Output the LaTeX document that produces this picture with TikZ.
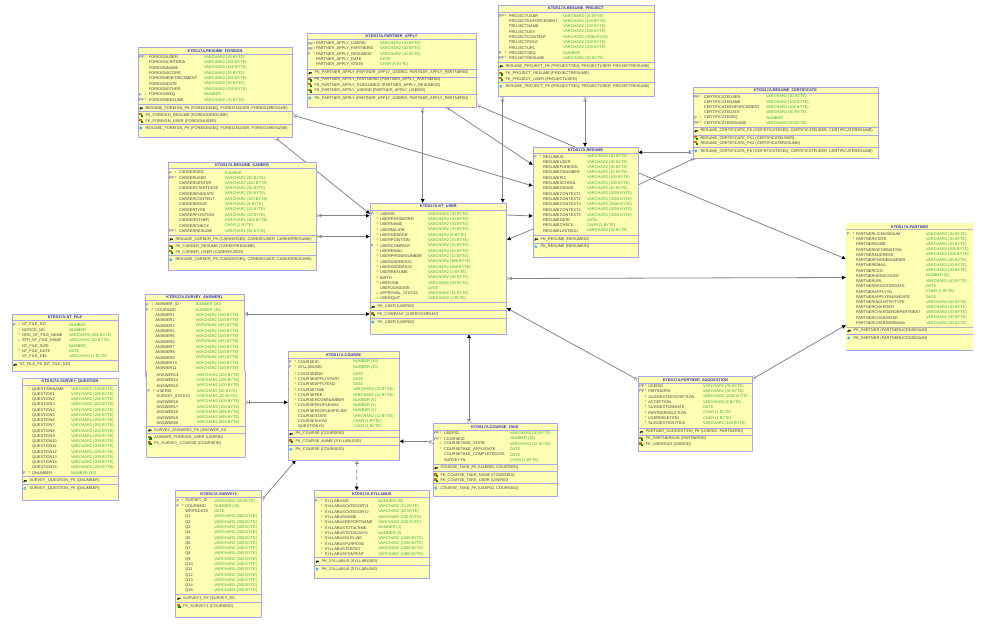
\documentclass[tikz,border=0pt]{standalone}
\usepackage{fontspec}
\setmainfont{Liberation Sans}
\usetikzlibrary{arrows.meta}
\pgfdeclarelayer{conn}
\pgfsetlayers{conn,main}
\definecolor{tfill}{HTML}{FFFFB4}
\definecolor{tline}{HTML}{A8A8E8}
\definecolor{ttitle}{HTML}{2A2AC8}
\definecolor{ttype}{HTML}{3CA83C}
\definecolor{tname}{HTML}{404040}
\definecolor{tlink}{HTML}{858585}
\tikzset{
  ahead/.tip={Latex[black,length=3pt,width=3.2pt]},
  crowo/.tip={Circle[open,length=2.4pt,width=2.6pt,line width=.3pt] Straight Barb[reversed,length=1.8pt,width=2.6pt,line width=.3pt]},
  crowb/.tip={Bar[width=3pt,line width=.35pt] Straight Barb[reversed,length=2pt,width=3pt,line width=.35pt]},
  tblbox/.style={draw=tline,fill=tfill,line width=.7pt,inner sep=0pt,outer sep=0pt,anchor=north west},
  txt/.style={inner sep=0pt,outer sep=0pt,anchor=west,font=\fontsize{2.95}{3.2}\selectfont},
  ttl/.style={txt,anchor=center,text=ttitle,font=\fontsize{2.9}{3.2}\selectfont\bfseries},
  nametxt/.style={txt,text=tname},
  typetxt/.style={txt,text=ttype},
  keytxt/.style={txt,text=ttitle},
  startxt/.style={txt,text=red!85!black},
  sepbar/.style={fill=tline},
  graybar/.style={fill=black!28},
  link/.style={draw=tlink,line width=.6pt},
}
% table frame: id, x0, y0, x1, y1, title, title y
\newcommand\ertbl[8][]{%
  \expandafter\gdef\csname ox#2\endcsname{#3}%
  \expandafter\gdef\csname oy#2\endcsname{#4}%
  \pgfmathsetmacro\tw{(#5-#3)*0.75}\pgfmathsetmacro\th{(#6-#4)*0.75}%
  \node[tblbox,minimum width=\tw pt,minimum height=\th pt,#1] (#2) at (#3,#4) {};%
  \node[ttl] (#2title) at ({(#3+#5)/2},#8) {#7};}
\newcommand\ersep[4][sepbar]{\path[#1] (#2,#4-.4) rectangle (#3,#4+.4);}
\newcommand\errows[7]{%
  \foreach \kk/\ss/\nn/\tt [count=\ii] in {#7} {%
    \pgfmathsetmacro\yy{#5+(\ii-1)*#6}%
    \node[keytxt] (#1k\ii) at (#2+1,\yy) {\kk};%
    \node[startxt] (#1s\ii) at (#2+6.5,\yy) {\ss};%
    \node[nametxt] (#1n\ii) at (#3,\yy) {\nn};%
    \node[typetxt] (#1t\ii) at (#4,\yy) {\tt};%
  }}
\newcommand\ickey[2]{\fill[black!85] (#1+.4,#2+1.3) -- (#1+1.6,#2-.9) -- (#1+4,#2-.3) -- (#1+4,#2+.9) -- (#1+2.4,#2+.5) -- (#1+2,#2+1.5) -- cycle;}
\newcommand\icfk[2]{\fill[orange!85!black] (#1+.2,#2-1.9) rectangle (#1+3.2,#2+.2);\fill[green!55!black] (#1+1.7,#2-.4) rectangle (#1+4.3,#2+2.1);}
\newcommand\icidx[2]{\fill[blue!50!cyan!80] (#1+2,#2) circle (1.6);\fill[white] (#1+2,#2) circle (.5);}
\newcommand\ercons[5]{%
  \csname ic#3\endcsname{#2+.8}{#4}%
  \node[nametxt] (#1) at (#2+7.5,#4) {#5};}
\newcommand\conn[7][]{%
  \pgfmathsetmacro\ax{#3-\csname ox#2\endcsname}\pgfmathsetmacro\ay{#4-\csname oy#2\endcsname}%
  \pgfmathsetmacro\bx{#6-\csname ox#5\endcsname}\pgfmathsetmacro\by{#7-\csname oy#5\endcsname}%
  \draw[link,#1] ([shift={(\ax,\ay)}]#2.north west) -- ([shift={(\bx,\by)}]#5.north west);}
\newcommand\VC[1]{VARCHAR2 (#1 BYTE)}
\newcommand\CH{CHAR (1 BYTE)}
\begin{document}
\begin{tikzpicture}[x=0.75pt,y=-0.75pt]
\useasboundingbox (0,0) rectangle (994,625);

% RESUME_FOREIGN
\ertbl{foreign}{138}{47}{292}{137}{KTDS17A.RESUME\_FOREIGN}{51}
\ersep{138}{292}{54}\ersep{138}{292}{104}\ersep{138}{292}{111}\ersep{138}{292}{124}
\errows{fo}{138}{149}{204}{57}{5.38}{PF/*/FOREIGNUSER/\VC{30},{}/{}/FOREIGNCRITERIA/\VC{100},{}/{}/FOREIGNNAME/\VC{100},{}/{}/FOREIGNSCORE/\VC{20},{}/{}/FOREIGNENFORCEMENT/\VC{100},{}/{}/FOREIGNDATE/\VC{30},{}/{}/FOREIGNOTHER/\VC{100},P/*/FOREIGNSEQ/NUMBER,PF/*/FOREIGNRESUME/\VC{30}}
\ercons{foc1}{138}{key}{108}{RESUME\_FOREIGN\_PK (FOREIGNSEQ, FOREIGNUSER, FOREIGNRESUME)}
\ercons{foc2}{138}{fk}{115}{FK\_FOREIGN\_RESUME (FOREIGNRESUME)}
\ercons{foc3}{138}{fk}{121}{FK\_FOREIGN\_USER (FOREIGNUSER)}
\ercons{foc4}{138}{idx}{128}{RESUME\_FOREIGN\_PK (FOREIGNSEQ, FOREIGNUSER, FOREIGNRESUME)}

% PARTNER_APPLY
\ertbl{apply}{307}{33}{476}{107}{KTDS17A.PARTNER\_APPLY}{36.5}
\ersep{307}{476}{39.5}\ersep{307}{476}{69}\ersep{307}{476}{77}\ersep{307}{476}{94}
\errows{ap}{307}{316}{380}{43.7}{5.2}{PF/*/PARTNER\_APPLY\_USERID/\VC{30},PF/*/PARTNER\_APPLY\_PARTNERID/\VC{30},F/*/PARTNER\_APPLY\_RESUMEID/\VC{30},{}/{}/PARTNER\_APPLY\_DATE/DATE,{}/{}/PARTNER\_APPLY\_STATE/CHAR (8 BYTE)}
\ercons{apc1}{307}{key}{72.7}{PK\_PARTNER\_APPLY (PARTNER\_APPLY\_USERID, PARTNER\_APPLY\_PARTNERID)}
\ercons{apc2}{307}{fk}{79.5}{FK\_PARTNER\_APPLY\_PARTNERID (PARTNER\_APPLY\_PARTNERID)}
\ercons{apc3}{307}{fk}{85}{FK\_PARTNER\_APPLY\_RUESUMEID (PARTNER\_APPLY\_RESUMEID)}
\ercons{apc4}{307}{fk}{90.7}{FK\_PARTNER\_APPLY\_USERID (PARTNER\_APPLY\_USERID)}
\ercons{apc5}{307}{idx}{98}{PK\_PARTNER\_APPLY (PARTNER\_APPLY\_USERID, PARTNER\_APPLY\_PARTNERID)}

% RESUME_PROJECT
\ertbl{project}{498}{5}{654}{96}{KTDS17A.RESUME\_PROJECT}{8.7}
\ersep{498}{654}{12}\ersep{498}{654}{62}\ersep{498}{654}{69.3}\ersep{498}{654}{82.3}
\errows{pr}{498}{509}{563}{16}{5.3}{PF/*/PROJECTUSER/\VC{30},{}/{}/PROJECTENFORCEMENT/\VC{100},{}/{}/PROJECTNAME/\VC{100},{}/{}/PROJECTDEV/\VC{200},{}/{}/PROJECTCONTENT/\VC{3000},{}/{}/PROJECTROLE/\VC{500},{}/{}/PROJECTURL/\VC{200},P/*/PROJECTSEQ/NUMBER,PF/*/PROJECTRESUME/\VC{30}}
\ercons{prc1}{498}{key}{66}{RESUME\_PROJECT\_PK (PROJECTSEQ, PROJECTUSER, PROJECTRESUME)}
\ercons{prc2}{498}{fk}{73.7}{FK\_PROJECT\_RESUME (PROJECTRESUME)}
\ercons{prc3}{498}{fk}{79}{FK\_PROJECT\_USER (PROJECTUSER)}
\ercons{prc4}{498}{idx}{86.3}{RESUME\_PROJECT\_PK (PROJECTSEQ, PROJECTUSER, PROJECTRESUME)}

% RESUME
\ertbl{resume}{533}{147}{638}{257}{KTDS17A.RESUME}{150}
\ersep{533}{638}{153.7}\ersep{533}{638}{235}\ersep{533}{638}{243}
\errows{re}{533}{543}{587}{156.7}{5.3}{P/*/RESUMEID/\VC{30},{}/{}/RESUMEUSER/\VC{30},{}/{}/RESUMEFOREIGN/\VC{30},{}/{}/RESUMEONUMBER/\VC{15},{}/{}/RESUMEPIC/\VC{100},{}/{}/RESUMESCHOOL/\VC{100},{}/{}/RESUMEGRADE/\VC{10},{}/{}/RESUMECONTEXT1/\VC{2000},{}/{}/RESUMECONTEXT2/\VC{2000},{}/{}/RESUMECONTEXT3/\VC{2000},{}/{}/RESUMECONTEXT4/\VC{2000},{}/{}/RESUMECONTEXT5/\VC{2000},{}/{}/RESUMEDATE/DATE,{}/{}/RESUMECHECK/\CH,{}/{}/RESUMELASTEDU/\VC{20}}
\ercons{rec1}{533}{key}{239}{PK\_RESUME (RESUMEID)}
\ercons{rec2}{533}{idx}{246.7}{PK\_RESUME (RESUMEID)}

% RESUME_CERTIFICATE
\ertbl{cert}{693}{87}{878}{158}{KTDS17A.RESUME\_CERTIFICATE}{90}
\ersep{693}{878}{93.3}\ersep{693}{878}{127.7}\ersep{693}{878}{135}\ersep{693}{878}{147}
\errows{ce}{693}{704}{766}{96.7}{5.3}{PF/*/CERTIFICATEUSER/\VC{30},{}/{}/CERTIFICATENAME/\VC{100},{}/{}/CERTIFICATEENFORCEMENT/\VC{100},{}/{}/CERTIFICATEDATE/\VC{30},P/*/CERTIFICATESEQ/NUMBER,PF/*/CERTIFICATERESUME/\VC{30}}
\ercons{cec1}{693}{key}{130.7}{RESUME\_CERTIFICATE\_PK (CERTIFICATESEQ, CERTIFICATEUSER, CERTIFICATERESUME)}
\ercons{cec2}{693}{fk}{138}{RESUME\_CERTIFICATE\_FK1 (CERTIFICATEUSER)}
\ercons{cec3}{693}{fk}{143}{RESUME\_CERTIFICATE\_FK2 (CERTIFICATERESUME)}
\ercons{cec4}{693}{idx}{151}{RESUME\_CERTIFICATE\_PK (CERTIFICATESEQ, CERTIFICATEUSER, CERTIFICATERESUME)}

% PARTNER
\ertbl[draw=none]{partner}{846}{223}{973}{350}{KTDS17A.PARTNER}{227}
\ersep[graybar]{846}{973}{229.7}\ersep[graybar]{846}{973}{327}\ersep{846}{973}{334.7}\ersep{846}{973}{350}
\errows{pa}{846}{856}{926}{234}{5.24}{P/*/PARTNERLICENSENUM/\VC{30},{}/*/PARTNERSTATE/\VC{30},{}/{}/PARTNERNAME/\VC{30},{}/{}/PARTNERINFORMATION/\VC{200},{}/{}/PARTNERADDRESS/\VC{100},{}/{}/PARTNERPHONENUMBER/\VC{30},{}/{}/PARTNEREMAIL/\VC{50},{}/{}/PARTNERCEO/\VC{20},{}/{}/PARTNERHEADCOUNT/NUMBER (5),{}/{}/PARTNERURL/\VC{40},{}/{}/PARTNERREGISTERDATE/DATE,{}/{}/PARTNERAPPLYYN/\CH,{}/{}/PARTNERAPPLYFINISHDATE/DATE,{}/{}/PARTNERINDUSTRYTYPE/\VC{50},{}/{}/PARTNERCHARGER/\VC{20},{}/{}/PARTNERCHARGERDEPARTMENT/\VC{20},{}/{}/PARTNERCHARGERID/\VC{30},{}/{}/PARTNERCHARGEREMAIL/\VC{50}}
\ercons{pac1}{846}{key}{330.5}{PK\_PARTNER (PARTNERLICENSENUM)}
\ercons{pac2}{846}{idx}{338}{PK\_PARTNER (PARTNERLICENSENUM)}

% RESUME_CAREER
\ertbl{career}{168}{162}{316}{270}{KTDS17A.RESUME\_CAREER}{165.7}
\ersep{168}{316}{168.7}\ersep{168}{316}{235}\ersep{168}{316}{242.7}\ersep{168}{316}{255.7}
\errows{ca}{168}{179}{224.7}{172.7}{5.3}{P/*/CAREERSEQ/NUMBER,PF/*/CAREERUSER/\VC{30},{}/{}/CAREERCENTER/\VC{100},{}/{}/CAREERSTARTDATE/\VC{30},{}/{}/CAREERENDDATE/\VC{30},{}/{}/CAREERCONTENT/\VC{100},{}/{}/CAREERHOUR/\VC{5},{}/{}/CAREERTYPE/\VC{10},{}/{}/CAREERPOSITION/\VC{20},{}/{}/CAREEROTHER/\VC{100},{}/{}/CAREERCHECK/\CH,PF/*/CAREERRESUME/\VC{30}}
\ercons{cac1}{168}{key}{239}{RESUME\_CAREER\_PK (CAREERSEQ, CAREERUSER, CAREERRESUME)}
\ercons{cac2}{168}{fk}{246.7}{FK\_CAREER\_RESUME (CAREERRESUME)}
\ercons{cac3}{168}{fk}{252}{FK\_CAREER\_USER (CAREERUSER)}
\ercons{cac4}{168}{idx}{259.7}{RESUME\_CAREER\_PK (CAREERSEQ, CAREERUSER, CAREERRESUME)}

% KT_USER
\ertbl{user}{370}{203}{506.7}{334}{KTDS17A.KT\_USER}{206.7}
\ersep{370}{506.7}{210}\ersep{370}{506.7}{302}\ersep{370}{506.7}{310.3}\ersep{370}{506.7}{318}
\errows{us}{370}{380}{428}{214}{5.31}{P/*/USERID/\VC{30},{}/*/USERPASSWORD/\VC{30},{}/*/USERNAME/\VC{30},{}/*/USERMAJOR/\VC{30},{}/*/USERGENDER/\VC{8},{}/*/USERPOSITION/\VC{15},F/*/USERCOMPANY/\VC{30},{}/*/USEREMAIL/\VC{50},{}/*/USERPHONENUMBER/\VC{12},{}/*/USERADDRESS1/\VC{888},{}/*/USERADDRESS2/\VC{888},{}/*/USERRESUME/\VC{2},{}/*/BIRTH/\VC{40},{}/*/USERJOB/\VC{50},{}/{}/USERJOINDATE/DATE,{}/*/APPROVAL\_STATUS/\VC{15},{}/*/USERQUIT/\VC{2}}
\ercons{usc1}{370}{key}{306.7}{PK\_USER (USERID)}
\ercons{usc2}{370}{fk}{314.3}{FK\_COMPANY (USERCOMPANY)}
\ercons{usc3}{370}{idx}{322}{PK\_USER (USERID)}

% NT_FILE
\ertbl{ntfile}{12}{314}{118}{371}{KTDS17A.NT\_FILE}{317.3}
\ersep{12}{118}{320.7}\ersep{12}{118}{360.7}
\errows{nt}{12}{22}{69}{324.7}{5.33}{P/*/NT\_FILE\_NO/NUMBER,{}/*/NOTICE\_NO/NUMBER,{}/*/ORG\_NT\_FILE\_NAME/\VC{260},{}/*/STR\_NT\_FILE\_NAME/\VC{50},{}/{}/NT\_FILE\_SIZE/NUMBER,{}/*/NT\_FILE\_DATE/DATE,{}/{}/NT\_FILE\_DEL/\VC{1}}
\ercons{ntc1}{12}{key}{364.5}{NT\_FILE\_PK (NT\_FILE\_NO)}

% SURVEY_QUESTION
\ertbl{question}{22}{378.3}{118}{500}{KTDS17A.SURVEY\_QUESTION}{382}
\ersep{22}{118}{385.7}\ersep{22}{118}{476.7}\ersep{22}{118}{484.7}
\errows{qu}{22}{32}{71}{389}{5.25}{{}/*/QUESTIONNAME/\VC{100},{}/{}/QUESTION1/\VC{200},{}/{}/QUESTION2/\VC{200},{}/{}/QUESTION3/\VC{200},{}/{}/QUESTION4/\VC{200},{}/{}/QUESTION5/\VC{200},{}/{}/QUESTION6/\VC{200},{}/{}/QUESTION7/\VC{200},{}/{}/QUESTION8/\VC{200},{}/{}/QUESTION9/\VC{200},{}/{}/QUESTION10/\VC{200},{}/{}/QUESTION11/\VC{200},{}/{}/QUESTION12/\VC{200},{}/{}/QUESTION13/\VC{200},{}/{}/QUESTION14/\VC{200},{}/{}/QUESTION15/\VC{200},P/*/QNUMBER/NUMBER (30)}
\ercons{quc1}{22}{key}{480.7}{SURVEY\_QUESTION\_PK (QNUMBER)}
\ercons{quc2}{22}{idx}{488.3}{SURVEY\_QUESTION\_PK (QNUMBER)}

% SURVEY_ANSWER1 (two spliced parts)
\ertbl{answera}{145}{294}{244}{376}{KTDS17A.SURVEY\_ANSWER1}{297.3}
\ersep{145}{244}{300.7}
\errows{ana}{145}{155.3}{195.7}{304.7}{5.3}{P/*/ANSWER\_ID/NUMBER (30),F/*/COURSEID/NUMBER (30),{}/{}/ANSWER1/\VC{100},{}/{}/ANSWER2/\VC{100},{}/{}/ANSWER3/\VC{100},{}/{}/ANSWER4/\VC{100},{}/{}/ANSWER5/\VC{100},{}/{}/ANSWER6/\VC{100},{}/{}/ANSWER7/\VC{100},{}/{}/ANSWER8/\VC{100},{}/{}/ANSWER9/\VC{100},{}/{}/ANSWER10/\VC{100},{}/{}/ANSWER11/\VC{100}}
\ertbl[draw=none]{answerb}{146.7}{370.7}{245.3}{457.7}{}{370.7}
\path[sepbar] (146.3,370.7) rectangle (147.1,457.7);
\path[sepbar] (244.9,370.7) rectangle (245.7,457.7);
\ersep{146.7}{245.3}{426}\ersep{146.7}{245.3}{433.3}\ersep{146.7}{245.3}{457.7}
\errows{anb}{146.7}{156.7}{196.7}{375}{5.33}{{}/{}/ANSWER13/\VC{100},{}/{}/ANSWER14/\VC{100},{}/{}/ANSWER15/\VC{100},F/*/USERID/\VC{30},{}/{}/SURVEY\_STATUS/\VC{20},{}/{}/ANSWER16/\VC{100},{}/{}/ANSWER17/\VC{100},{}/{}/ANSWER18/\VC{999},{}/{}/ANSWER19/\VC{999},{}/{}/ANSWER20/\VC{999}}
\ercons{anc1}{146.7}{key}{430}{SURVEY\_ANSWER1\_PK (ANSWER\_ID)}
\ercons{anc2}{146.7}{fk}{437.7}{ANSWER\_FOREIGN\_USER (USERID)}
\ercons{anc3}{146.7}{fk}{443.3}{FK\_SURVEY\_COURSE (COURSEID)}

% COURSE
\ertbl{course}{288}{351}{399.3}{460}{KTDS17A.COURSE}{354.7}
\ersep{288}{399.3}{358}\ersep{288}{399.3}{430.3}\ersep{288}{399.3}{437.7}\ersep{288}{399.3}{445.3}
\errows{coa}{288}{298}{353}{361.7}{5.3}{P/*/COURSEID/NUMBER (30),F/*/SYLLABUSID/NUMBER (30)}
\errows{cob}{288}{298}{353}{374}{5.27}{{}/*/COURSEEND/DATE,{}/*/COURSEAPPLYSTART/DATE,{}/*/COURSEAPPLYEND/DATE,{}/*/COURSETIME/\VC{20},{}/*/COURSEFEE/\VC{10},{}/*/COURSEROOMNUMBER/NUMBER (5),{}/*/COURSEPEOPLEMAX/NUMBER (2),{}/{}/COURSEPEOPLEAPPLIED/NUMBER (2),{}/{}/COURSESTATE/\VC{12},{}/{}/COURSESHOW/\CH,{}/{}/QUESTIONYN/\CH}
\ercons{coc1}{288}{key}{433.7}{PK\_COURSE (COURSEID)}
\ercons{coc2}{288}{fk}{441.3}{FK\_COURSE\_NAME (SYLLABUSID)}
\ercons{coc3}{288}{idx}{449.3}{PK\_COURSE (COURSEID)}

% SURVEY1
\ertbl{surveyone}{175.7}{490.7}{261.7}{617.7}{KTDS17A.SURVEY1}{494.3}
\ersep{175.7}{261.7}{497.7}\ersep{175.7}{261.7}{594.3}\ersep{175.7}{261.7}{602}
\errows{su}{175.7}{185.3}{214.3}{501}{5.29}{P/*/SURVEY\_ID/\VC{20},F/*/COURSEID/NUMBER (30),{}/{}/WRITEDATE/DATE,{}/{}/Q1/\VC{200},{}/{}/Q2/\VC{200},{}/{}/Q3/\VC{200},{}/{}/Q4/\VC{200},{}/{}/Q5/\VC{200},{}/{}/Q6/\VC{200},{}/{}/Q7/\VC{200},{}/{}/Q8/\VC{200},{}/{}/Q9/\VC{200},{}/{}/Q10/\VC{200},{}/{}/Q11/\VC{200},{}/{}/Q12/\VC{200},{}/{}/Q13/\VC{200},{}/{}/Q14/\VC{200},{}/{}/Q15/\VC{200}}
\ercons{suc1}{175.7}{key}{598.3}{SURVEY1\_PK (SURVEY\_ID)}
\ercons{suc2}{175.7}{fk}{606}{FK\_SURVEY1 (COURSEID)}

% SYLLABUS
\ertbl{syllabus}{314.3}{490.7}{429.3}{578}{KTDS17A.SYLLABUS}{494.3}
\ersep{314.3}{429.3}{497.7}\ersep{314.3}{429.3}{557.7}\ersep{314.3}{429.3}{565}
\errows{sy}{314.3}{324.7}{378.3}{501}{5.33}{P/*/SYLLABUSID/NUMBER (30),{}/*/SYLLABUSCATEGORY1/\VC{21},{}/*/SYLLABUSCATEGORY2/\VC{20},{}/*/SYLLABUSNAME/\VC{100},{}/*/SYLLABUSREPORTNAME/\VC{100},{}/*/SYLLABUSTOTALTIME/NUMBER (4),{}/*/SYLLABUSTOTALDAYS/NUMBER (3),{}/*/SYLLABUSOUTLINE/\VC{1500},{}/*/SYLLABUSPURPOSE/\VC{1500},{}/*/SYLLABUSTARGET/\VC{1500},{}/*/SYLLABUSCONTENT/\VC{1500}}
\ercons{syc1}{314.3}{key}{561.3}{PK\_SYLLABUS (SYLLABUSID)}
\ercons{syc2}{314.3}{idx}{569}{PK\_SYLLABUS (SYLLABUSID)}

% COURSE_TAKE
\ertbl{take}{433}{423}{557}{496}{KTDS17A.COURSE\_TAKE}{427}
\ersep{433}{557}{430.3}\ersep{433}{557}{464.3}\ersep{433}{557}{471.7}\ersep{433}{557}{483.3}
\errows{ta}{433}{444}{510}{433.3}{5.35}{PF/*/USERID/\VC{30},PF/*/COURSEID/NUMBER (30),{}/*/COURSETAKE\_STATE/\VC{15},{}/*/COURSETAKE\_APPLYDATE/DATE,{}/{}/COURSETAKE\_COMPLETEDATE/DATE,{}/{}/SURVEYYN/\CH}
\ercons{tac1}{433}{key}{467.7}{COURSE\_TAKE\_PK (USERID, COURSEID)}
\ercons{tac2}{433}{fk}{475.3}{FK\_COURSE\_TAKE\_NAME (COURSEID)}
\ercons{tac3}{433}{fk}{480.3}{FK\_COURSE\_TAKE\_USER (USERID)}
\ercons{tac4}{433}{idx}{488}{COURSE\_TAKE\_PK (USERID, COURSEID)}

% PARTNER_SUGGESTION
\ertbl{sugg}{638.3}{376}{752.3}{451.7}{KTDS17A.PARTNER\_SUGGESTION}{380}
\ersep{638.3}{752.3}{383.3}\ersep{638.3}{752.3}{428}\ersep{638.3}{752.3}{435.3}
\errows{sg}{638.3}{648.3}{703}{386.3}{5.33}{PF/*/USERID/\VC{30},PF/*/PARTNERID/\VC{30},{}/*/SUGGESTDESCRIPTION/\VC{2000},{}/*/ACCEPTION/\VC{8},{}/*/SUGGESTIONDATE/DATE,{}/*/PARTNERDELETION/\CH,{}/*/USERDELETION/\CH,{}/*/SUGGESTIONTITLE/\VC{100}}
\ercons{sgc1}{638.3}{key}{431.7}{PARTNER\_SUGGESTION\_PK (USERID, PARTNERID)}
\ercons{sgc2}{638.3}{fk}{438.7}{FK\_PARTNERSUG (PARTNERID)}
\ercons{sgc3}{638.3}{fk}{444.3}{FK\_USERSUG (USERID)}

\begin{pgfonlayer}{conn}
\conn[{crowb-ahead}]{foreign}{292.5}{115}{resume}{533}{186}
\conn[{crowb-ahead}]{foreign}{275}{137.5}{user}{370}{214}
\conn[{crowb-ahead}]{apply}{446}{107}{resume}{533}{165}
\conn[{crowb-}]{apply}{476.5}{105}{resume}{575}{147}
\conn[{crowo-ahead}]{apply}{422.7}{107}{user}{422.7}{203}
\conn[{crowo-ahead}]{project}{502.7}{96}{user}{502.7}{203}
\conn[{crowo-ahead}]{project}{585}{96}{resume}{585}{147}
\conn[{crowb-ahead}]{cert}{693}{152.3}{resume}{638}{152.3}
\conn[{crowb-}]{cert}{695}{158}{resume}{638}{185}
\conn[{-ahead}]{resume}{638}{172.7}{partner}{846}{259}
\conn[{crowo-ahead}]{user}{506.7}{278.5}{partner}{846}{277.5}
\conn[{-ahead}]{resume}{533}{229}{user}{506.7}{240}
\conn[{-ahead}]{user}{506.7}{215}{resume}{533}{216}
\conn[{crowb-ahead}]{sugg}{638.3}{380}{user}{506.7}{308}
\conn[{crowb-ahead}]{sugg}{752.3}{379}{partner}{846}{325}
\conn[{crowo-ahead}]{career}{316}{215.7}{user}{370}{215.7}
\conn[{crowo-ahead}]{career}{316}{236.5}{user}{370}{236.5}
\conn[{crowb-ahead}]{answera}{244}{314}{user}{370}{314}
\conn[{crowb-ahead}]{answerb}{245.3}{402.3}{course}{288}{402.3}
\conn[{crowb-ahead}]{take}{433}{441.7}{course}{399.3}{441.3}
\conn[{crowb-ahead}]{take}{469}{423}{user}{469}{334}
\conn[{crowb-ahead,dashed,dash pattern=on 3pt off 2pt}]{course}{356.7}{460}{syllabus}{356.7}{490.7}
\conn[{crowb-ahead}]{surveyone}{261.7}{500}{course}{296}{460}
\end{pgfonlayer}
\end{tikzpicture}
\end{document}
